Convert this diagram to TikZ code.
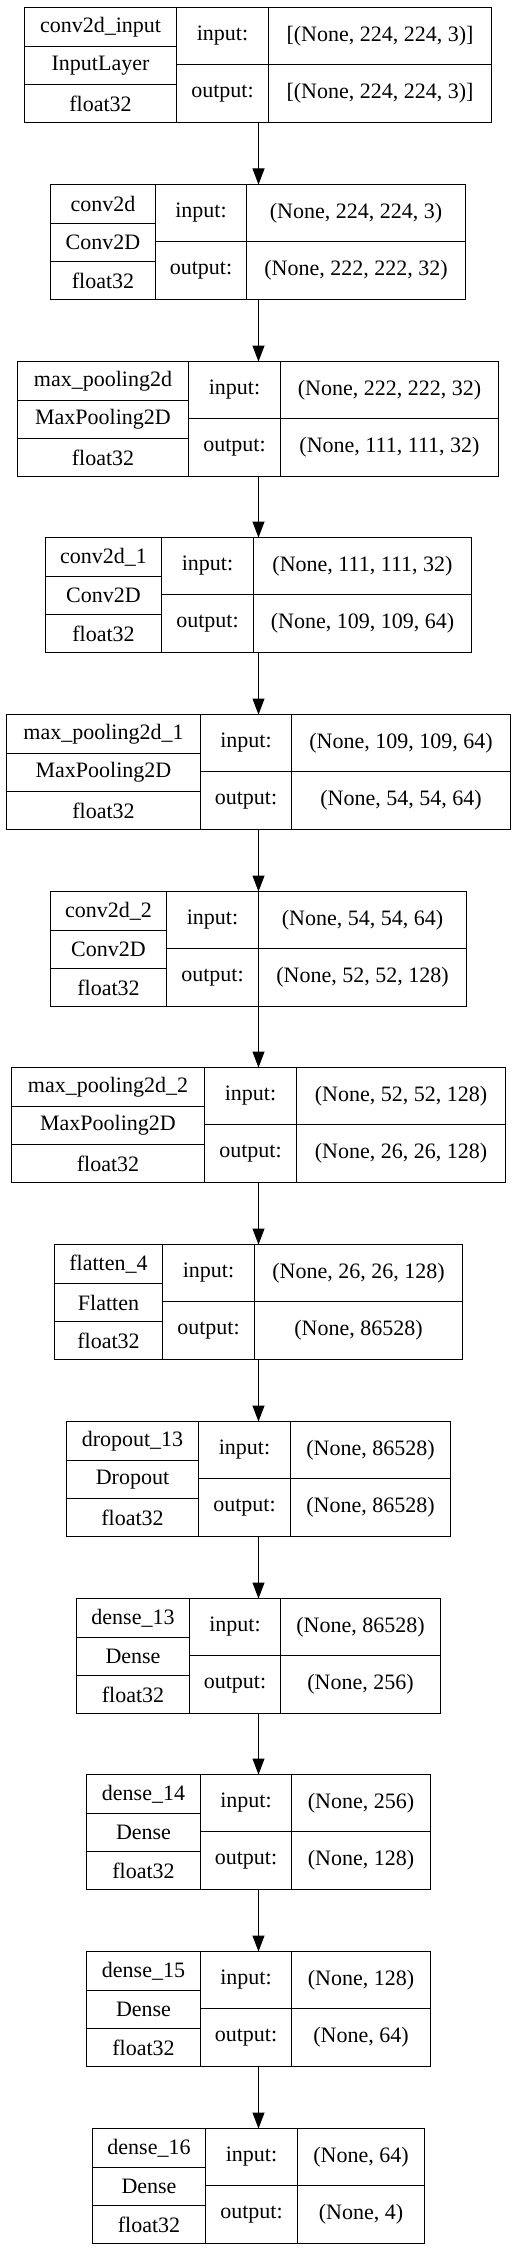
\documentclass[tikz,border=0pt]{standalone}
\usepackage{fontspec}
\setmainfont{Liberation Serif}
\usetikzlibrary{arrows.meta}
\newcommand\layerbox[9]{%
  \pgfmathsetmacro\tp{round(7.3+(#1-1)*176.7)+0.5}%
  \pgfmathsetmacro\wa{#3-#2}%
  \pgfmathsetmacro\wb{#4-#3}%
  \pgfmathsetmacro\wc{#5-#4}%
  \pgfmathsetmacro\wo{#5-#2}%
  \node[outerbox, minimum width=\wo pt, minimum height=115pt] (b#1) at ({(#2+#5)/2},{\tp+57.5}) {};
  \node[cell, minimum width=\wa pt, minimum height=39pt] (n#1) at ({(#2+#3)/2},{\tp+19.5}) {#6};
  \node[cell, minimum width=\wa pt, minimum height=38pt] (t#1) at ({(#2+#3)/2},{\tp+58}) {#7};
  \node[cell, minimum width=\wa pt, minimum height=38pt] (d#1) at ({(#2+#3)/2},{\tp+96}) {float32};
  \node[cell, minimum width=\wb pt, minimum height=57pt] (il#1) at ({(#3+#4)/2},{\tp+28.5}) {input:};
  \node[cell, minimum width=\wb pt, minimum height=58pt] (ol#1) at ({(#3+#4)/2},{\tp+86}) {output:};
  \node[cell, minimum width=\wc pt, minimum height=57pt] (iv#1) at ({(#4+#5)/2},{\tp+28.5}) {#8};
  \node[cell, minimum width=\wc pt, minimum height=58pt] (ov#1) at ({(#4+#5)/2},{\tp+86}) {#9};
}
\begin{document}
\begin{tikzpicture}[x=1pt,y=-1pt,
  cell/.style={draw=black, line width=1pt, inner sep=0pt, font=\fontsize{22}{26}\selectfont},
  outerbox/.style={inner sep=0pt, outer sep=0pt},
  flow/.style={draw=black, line width=1pt, -{Triangle[length=16pt,width=12pt]}}]
\useasboundingbox (0,0) rectangle (517,2250);
\coordinate (ax) at (258.5,0);
\layerbox{1}{24.5}{176.5}{268.5}{491.5}{conv2d\_input}{InputLayer}{[(None, 224, 224, 3)]}{[(None, 224, 224, 3)]}
\layerbox{2}{50.5}{155.5}{246.5}{465.5}{conv2d}{Conv2D}{(None, 224, 224, 3)}{(None, 222, 222, 32)}
\layerbox{3}{17.5}{188.5}{280.5}{498.5}{max\_pooling2d}{MaxPooling2D}{(None, 222, 222, 32)}{(None, 111, 111, 32)}
\layerbox{4}{45.5}{161.5}{253.5}{471.5}{conv2d\_1}{Conv2D}{(None, 111, 111, 32)}{(None, 109, 109, 64)}
\layerbox{5}{6.5}{200.5}{291.5}{510.5}{max\_pooling2d\_1}{MaxPooling2D}{(None, 109, 109, 64)}{(None, 54, 54, 64)}
\layerbox{6}{50.5}{166.5}{258.5}{466.5}{conv2d\_2}{Conv2D}{(None, 54, 54, 64)}{(None, 52, 52, 128)}
\layerbox{7}{11.5}{204.5}{296.5}{505.5}{max\_pooling2d\_2}{MaxPooling2D}{(None, 52, 52, 128)}{(None, 26, 26, 128)}
\layerbox{8}{54.5}{162.5}{254.5}{462.5}{flatten\_4}{Flatten}{(None, 26, 26, 128)}{(None, 86528)}
\layerbox{9}{66.5}{198.5}{290.5}{450.5}{dropout\_13}{Dropout}{(None, 86528)}{(None, 86528)}
\layerbox{10}{76.5}{189.5}{280.5}{440.5}{dense\_13}{Dense}{(None, 86528)}{(None, 256)}
\layerbox{11}{86.5}{200.5}{291.5}{430.5}{dense\_14}{Dense}{(None, 256)}{(None, 128)}
\layerbox{12}{86.5}{200.5}{291.5}{430.5}{dense\_15}{Dense}{(None, 128)}{(None, 64)}
\layerbox{13}{92.5}{205.5}{297.5}{424.5}{dense\_16}{Dense}{(None, 64)}{(None, 4)}
\foreach \a/\b in {1/2,2/3,3/4,4/5,5/6,6/7,7/8,8/9,9/10,10/11,11/12,12/13}
  \draw[flow] (b\a.south -| ax) -- (b\b.north -| ax);
\end{tikzpicture}
\end{document}
